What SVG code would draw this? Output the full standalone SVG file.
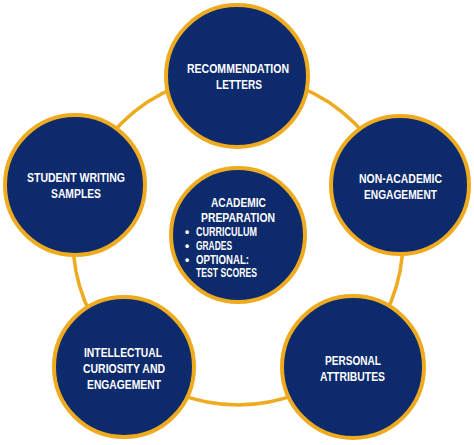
<svg xmlns="http://www.w3.org/2000/svg" width="474" height="445" viewBox="0 0 474 445">
<style>
.node{fill:#0c2a6c;stroke:#efab1f;stroke-width:4}
.ring{fill:none;stroke:#efab1f;stroke-width:3.5}
text{font-family:"Liberation Sans",Arial,sans-serif;font-weight:bold;font-size:12px;fill:#ffffff}
.c{text-anchor:middle}
</style>
<rect width="474" height="445" fill="#ffffff"/>
<g id="connectors">
<circle class="ring" cx="238" cy="240" r="165"/>
</g>
<g id="recommendation">
<circle class="node" cx="237" cy="76" r="71"/>
<text class="c" x="238" y="73" textLength="102" lengthAdjust="spacingAndGlyphs">RECOMMENDATION</text>
<text class="c" x="239" y="89" textLength="46" lengthAdjust="spacingAndGlyphs">LETTERS</text>
</g>
<g id="student-writing">
<circle class="node" cx="75" cy="185" r="70"/>
<text class="c" x="76" y="182" textLength="98" lengthAdjust="spacingAndGlyphs">STUDENT WRITING</text>
<text class="c" x="76" y="198" textLength="50" lengthAdjust="spacingAndGlyphs">SAMPLES</text>
</g>
<g id="non-academic">
<circle class="node" cx="400" cy="185" r="69"/>
<text class="c" x="400.5" y="183" textLength="83" lengthAdjust="spacingAndGlyphs">NON-ACADEMIC</text>
<text class="c" x="400.5" y="199" textLength="73" lengthAdjust="spacingAndGlyphs">ENGAGEMENT</text>
</g>
<g id="academic-preparation">
<circle class="node" cx="238" cy="235" r="67"/>
<text class="c" x="238.5" y="207" textLength="55" lengthAdjust="spacingAndGlyphs">ACADEMIC</text>
<text class="c" x="238" y="222" textLength="74" lengthAdjust="spacingAndGlyphs">PREPARATION</text>
<text x="185" y="236">•</text>
<text x="196" y="236" textLength="61" lengthAdjust="spacingAndGlyphs">CURRICULUM</text>
<text x="185" y="250">•</text>
<text x="196" y="250" textLength="36" lengthAdjust="spacingAndGlyphs">GRADES</text>
<text x="185" y="264">•</text>
<text x="196" y="264" textLength="53" lengthAdjust="spacingAndGlyphs">OPTIONAL:</text>
<text x="196" y="277" textLength="61" lengthAdjust="spacingAndGlyphs">TEST SCORES</text>
</g>
<g id="intellectual-curiosity">
<circle class="node" cx="124" cy="367" r="70"/>
<text class="c" x="123" y="357" textLength="78" lengthAdjust="spacingAndGlyphs">INTELLECTUAL</text>
<text class="c" x="124" y="373" textLength="82" lengthAdjust="spacingAndGlyphs">CURIOSITY AND</text>
<text class="c" x="124" y="389" textLength="74" lengthAdjust="spacingAndGlyphs">ENGAGEMENT</text>
</g>
<g id="personal-attributes">
<circle class="node" cx="353" cy="367" r="71"/>
<text class="c" x="353" y="365" textLength="56" lengthAdjust="spacingAndGlyphs">PERSONAL</text>
<text class="c" x="352.5" y="381" textLength="65" lengthAdjust="spacingAndGlyphs">ATTRIBUTES</text>
</g>
</svg>
